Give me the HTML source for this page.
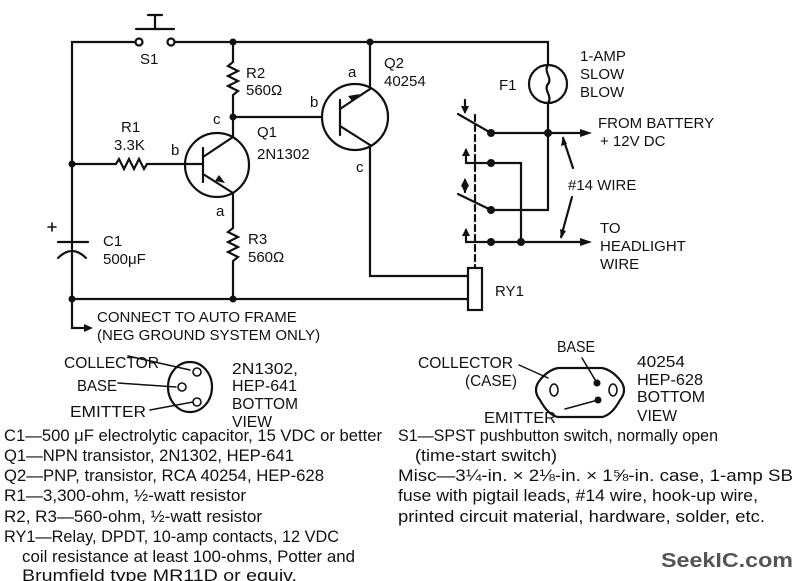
<!DOCTYPE html>
<html><head><meta charset="utf-8"><style>
html,body{margin:0;padding:0;background:#fff}
svg{display:block}
text{font-family:"Liberation Sans",sans-serif;fill:#111}
</style></head><body>
<svg width="800" height="581" viewBox="0 0 800 581" xmlns="http://www.w3.org/2000/svg">
<g stroke="#111" stroke-width="2.2" fill="none" stroke-linecap="round">
<polyline points="72,300 72,42 135,42"/>
<polyline points="174,42 548,42 548,65"/>
<circle cx="139" cy="42" r="3.5" fill="#fff"/>
<circle cx="171" cy="42" r="3.5" fill="#fff"/>
<line x1="136" y1="29" x2="174" y2="29"/><line x1="155" y1="15" x2="155" y2="29"/><line x1="148" y1="15" x2="162" y2="15"/>
<polyline points="233,42 233,62 228,66 238,71 228,76 238,81 228,86 238,91 233,95 233,117"/>
<line x1="233" y1="117" x2="322" y2="117"/>
<circle cx="217" cy="165" r="32"/>
<line x1="233" y1="117" x2="233" y2="137"/>
<line x1="203" y1="148" x2="203" y2="182"/>
<line x1="203" y1="157" x2="233" y2="137"/>
<line x1="203" y1="174" x2="233" y2="193"/>
<line x1="186" y1="164" x2="203" y2="164"/>
<polyline points="72,164 116,164 119,159 124,169 129,159 134,169 139,159 144,169 147,164 186,164"/>
<polyline points="233,193 233,228 228,232 238,237 228,242 238,247 228,252 238,257 233,261 233,299"/>
<line x1="72" y1="299" x2="468" y2="299"/>
<circle cx="355" cy="117" r="33"/>
<line x1="340" y1="100" x2="340" y2="135"/>
<line x1="340" y1="109" x2="370" y2="89"/>
<line x1="340" y1="126" x2="370" y2="145"/>
<line x1="370" y1="42" x2="370" y2="89"/>
<polyline points="370,145 370,276 468,276"/>
<rect x="468" y="268" width="14" height="42"/>
<line x1="475" y1="115" x2="475" y2="268" stroke-dasharray="6,4"/>
<line x1="58" y1="242" x2="88" y2="242"/>
<path d="M58,258 Q72,244 86,258"/>
<line x1="48" y1="227" x2="56" y2="227" stroke-width="1.6"/><line x1="52" y1="223" x2="52" y2="231" stroke-width="1.6"/>
<polyline points="72,299 72,328 86,328"/>
<circle cx="548" cy="84" r="19"/>
<path d="M548,65 C543,72 553,78 548,84 C543,90 553,96 548,103"/>
<line x1="548" y1="103" x2="548" y2="210"/>
<line x1="458" y1="114" x2="491" y2="133"/>
<line x1="491" y1="133" x2="582" y2="133"/>
<polyline points="491,163 521,163 521,242"/>
<line x1="458" y1="194" x2="491" y2="210"/>
<line x1="491" y1="210" x2="548" y2="210"/>
<line x1="466" y1="242" x2="582" y2="242"/>
<line x1="466" y1="163" x2="491" y2="163"/>
<line x1="466" y1="150" x2="466" y2="163"/>
<line x1="466" y1="230" x2="466" y2="242"/>
<line x1="465" y1="100" x2="465" y2="112"/>
<line x1="465" y1="180" x2="465" y2="192"/>
<line x1="573" y1="168" x2="563" y2="138"/>
<line x1="572" y1="197" x2="561" y2="237"/>
<ellipse cx="190" cy="387" rx="22" ry="25"/>
<circle cx="197" cy="372" r="4" stroke-width="1.6"/>
<circle cx="182" cy="387" r="4" stroke-width="1.6"/>
<circle cx="197" cy="402" r="4" stroke-width="1.6"/>
<line x1="128" y1="356" x2="190" y2="370" stroke-width="1.5"/>
<line x1="118" y1="383" x2="176" y2="387" stroke-width="1.5"/>
<line x1="150" y1="410" x2="193" y2="402" stroke-width="1.5"/>
<path d="M558,368 L602,368 Q612,370 620,380 Q628,390 620,400 Q612,415 602,417 L558,417 Q548,415 540,400 Q532,390 540,380 Q548,370 558,368 Z"/>
<ellipse cx="554" cy="390" rx="4" ry="6" stroke-width="1.6"/>
<ellipse cx="613" cy="390" rx="4" ry="6" stroke-width="1.6"/>
<line x1="582" y1="358" x2="597" y2="383" stroke-width="1.5"/>
<line x1="519" y1="365" x2="548" y2="378" stroke-width="1.5"/>
<line x1="565" y1="409" x2="598" y2="400" stroke-width="1.5"/>
</g>
<g fill="#111">
<circle cx="233" cy="42" r="3.5"/><circle cx="370" cy="42" r="3.5"/>
<circle cx="233" cy="117" r="3.5"/><circle cx="72" cy="164" r="3.5"/>
<circle cx="72" cy="299" r="3.5"/><circle cx="233" cy="299" r="3.5"/>
<circle cx="491" cy="133" r="4"/><circle cx="548" cy="133" r="4"/>
<circle cx="491" cy="163" r="4"/><circle cx="491" cy="210" r="4"/>
<circle cx="491" cy="242" r="4"/><circle cx="521" cy="242" r="4"/>
<circle cx="597" cy="383" r="3.5"/><circle cx="598" cy="400" r="3.5"/>
<polygon points="93,328 84,324 84,332"/>
<polygon points="592,133 580,129 580,137"/>
<polygon points="592,242 580,238 580,246"/>
<polygon points="563,136 561,146 567,144"/>
<polygon points="561,239 560,229 566,231"/>
<polygon points="225,183 215,181 219,175"/>
<polygon points="360,94 352,101 348,96"/>
<polygon points="465,114 461,106 469,106"/>
<polygon points="465,178 461,186 469,186"/>
<polygon points="466,148 462,156 470,156"/>
<polygon points="465,193 461,185 469,185"/>
<polygon points="466,228 462,236 470,236"/>
</g>
<g font-size="15">
<text x="140" y="64">S1</text>
<text x="246" y="78">R2</text><text x="246" y="95">560Ω</text>
<text x="121" y="132">R1</text><text x="114" y="150">3.3K</text>
<text x="171" y="155">b</text><text x="213" y="124">c</text>
<text x="257" y="137">Q1</text><text x="257" y="159">2N1302</text>
<text x="216" y="216">a</text>
<text x="248" y="244">R3</text><text x="248" y="262">560Ω</text>
<text x="103" y="246">C1</text><text x="103" y="264">500μF</text>
<text x="348" y="77">a</text><text x="310" y="107">b</text><text x="356" y="172">c</text>
<text x="384" y="68">Q2</text><text x="384" y="86">40254</text>
<text x="499" y="90">F1</text>
<text x="580" y="61">1-AMP</text><text x="580" y="79">SLOW</text><text x="580" y="97">BLOW</text>
<text x="598" y="128">FROM BATTERY</text><text x="600" y="146">+ 12V DC</text>
<text x="568" y="190">#14 WIRE</text>
<text x="600" y="233">TO</text><text x="600" y="251">HEADLIGHT</text><text x="600" y="269">WIRE</text>
<text x="495" y="296">RY1</text>
<text x="97" y="322">CONNECT TO AUTO FRAME</text>
<text x="97" y="340">(NEG GROUND SYSTEM ONLY)</text>
</g>
<g font-size="16">
<text x="64" y="368" textLength="95" lengthAdjust="spacingAndGlyphs">COLLECTOR</text>
<text x="77" y="391" textLength="40" lengthAdjust="spacingAndGlyphs">BASE</text>
<text x="70" y="417" textLength="76" lengthAdjust="spacingAndGlyphs">EMITTER</text>
<text x="232" y="374" textLength="66" lengthAdjust="spacingAndGlyphs">2N1302,</text>
<text x="232" y="391" textLength="65" lengthAdjust="spacingAndGlyphs">HEP-641</text>
<text x="232" y="409" textLength="66" lengthAdjust="spacingAndGlyphs">BOTTOM</text>
<text x="232" y="427" textLength="40" lengthAdjust="spacingAndGlyphs">VIEW</text>
<text x="418" y="368" textLength="95" lengthAdjust="spacingAndGlyphs">COLLECTOR</text>
<text x="465" y="386" textLength="52" lengthAdjust="spacingAndGlyphs">(CASE)</text>
<text x="557" y="352" textLength="38" lengthAdjust="spacingAndGlyphs">BASE</text>
<text x="484" y="423" textLength="72" lengthAdjust="spacingAndGlyphs">EMITTER</text>
<text x="637" y="367" textLength="48" lengthAdjust="spacingAndGlyphs">40254</text>
<text x="637" y="385" textLength="66" lengthAdjust="spacingAndGlyphs">HEP-628</text>
<text x="637" y="402" textLength="68" lengthAdjust="spacingAndGlyphs">BOTTOM</text>
<text x="637" y="421" textLength="40" lengthAdjust="spacingAndGlyphs">VIEW</text>
</g>
<g font-size="17">
<text x="4" y="441" textLength="378" lengthAdjust="spacingAndGlyphs">C1—500 μF electrolytic capacitor, 15 VDC or better</text>
<text x="4" y="461" textLength="290" lengthAdjust="spacingAndGlyphs">Q1—NPN transistor, 2N1302, HEP-641</text>
<text x="4" y="481" textLength="320" lengthAdjust="spacingAndGlyphs">Q2—PNP, transistor, RCA 40254, HEP-628</text>
<text x="4" y="501" textLength="242" lengthAdjust="spacingAndGlyphs">R1—3,300-ohm, ½-watt resistor</text>
<text x="4" y="522" textLength="258" lengthAdjust="spacingAndGlyphs">R2, R3—560-ohm, ½-watt resistor</text>
<text x="4" y="542" textLength="335" lengthAdjust="spacingAndGlyphs">RY1—Relay, DPDT, 10-amp contacts, 12 VDC</text>
<text x="22" y="562" textLength="333" lengthAdjust="spacingAndGlyphs">coil resistance at least 100-ohms, Potter and</text>
<text x="22" y="581" textLength="275" lengthAdjust="spacingAndGlyphs">Brumfield type MR11D or equiv.</text>
<text x="398" y="441" textLength="320" lengthAdjust="spacingAndGlyphs">S1—SPST pushbutton switch, normally open</text>
<text x="415" y="461" textLength="142" lengthAdjust="spacingAndGlyphs">(time-start switch)</text>
<text x="398" y="481" textLength="395" lengthAdjust="spacingAndGlyphs">Misc—3¼-in. × 2⅛-in. × 1⅝-in. case, 1-amp SB</text>
<text x="398" y="501" textLength="360" lengthAdjust="spacingAndGlyphs">fuse with pigtail leads, #14 wire, hook-up wire,</text>
<text x="398" y="522" textLength="367" lengthAdjust="spacingAndGlyphs">printed circuit material, hardware, solder, etc.</text>
<text x="661" y="567" font-size="20" font-weight="bold" style="fill:#555" textLength="132" lengthAdjust="spacingAndGlyphs">SeekIC.com</text>
</g>
</svg>
</body></html>
